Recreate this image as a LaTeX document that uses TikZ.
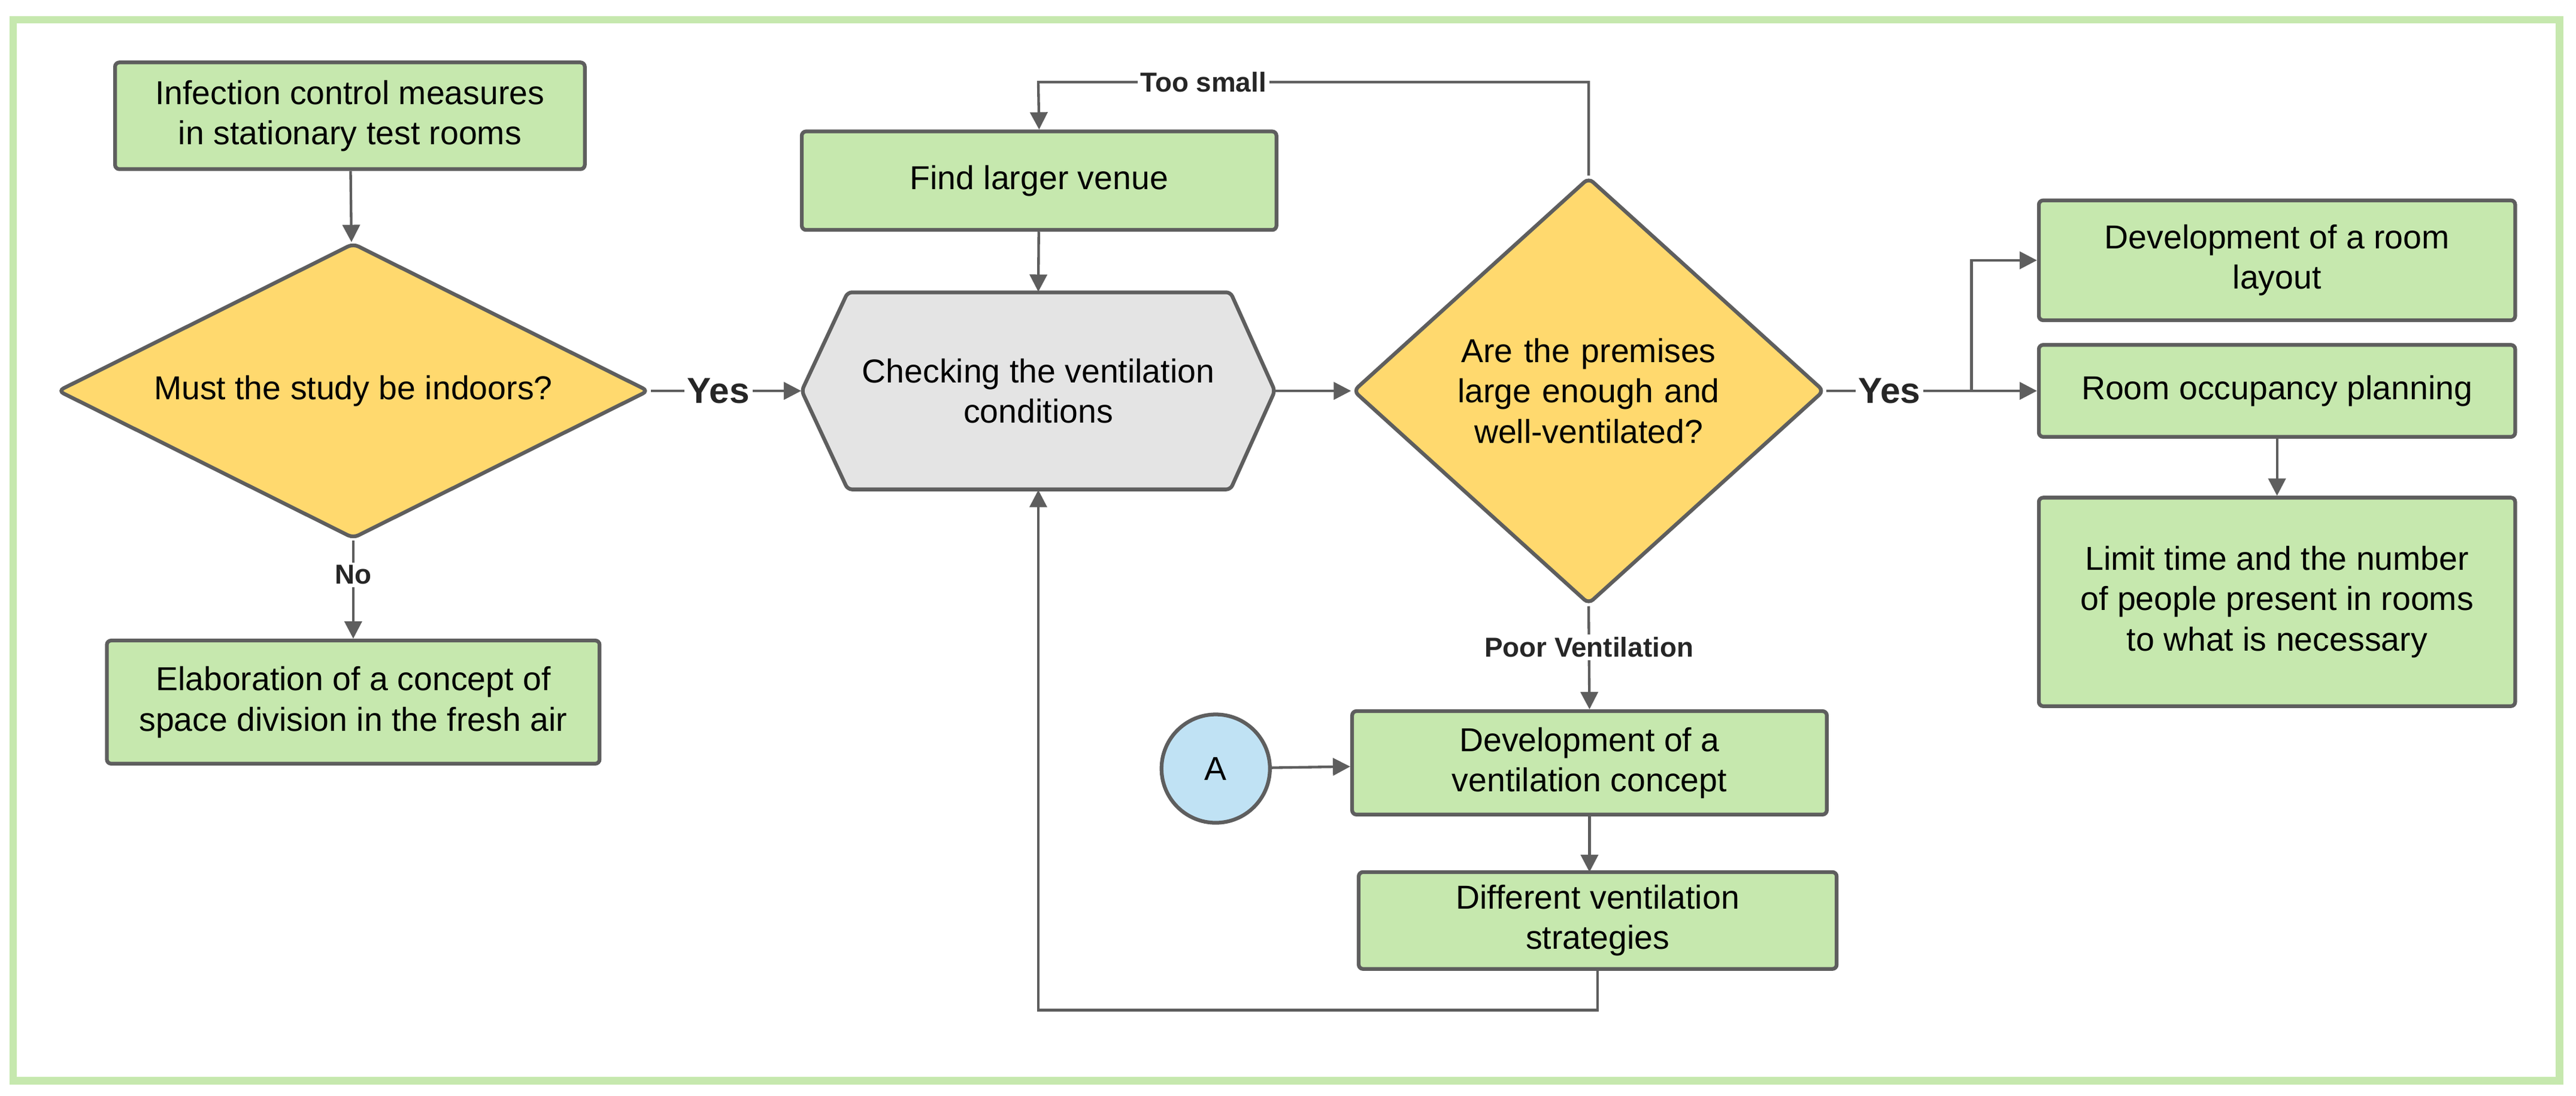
\documentclass[tikz,border=0pt]{standalone}
\usepackage{fontspec}
\setmainfont{Liberation Sans}
\usetikzlibrary{shapes.geometric,arrows.meta}
\definecolor{gbox}{HTML}{C6E8AE}
\definecolor{ydia}{HTML}{FFD96E}
\definecolor{hexg}{HTML}{E4E4E4}
\definecolor{cblue}{HTML}{C0E2F4}
\definecolor{lgray}{HTML}{5E5E5E}
\begin{document}
\begin{tikzpicture}[x=0.02cm,y=-0.02cm,
  font=\fontsize{11.5}{14}\selectfont,
  box/.style={draw=lgray,line width=1.3pt,fill=gbox,rounded corners=1.5pt,align=center,inner sep=2pt},
  dia/.style={diamond,draw=lgray,line width=1.3pt,fill=ydia,align=center,inner sep=0pt,rounded corners=2pt},
  arr/.style={draw=lgray,line width=0.9pt,-{Triangle[length=6pt,width=6pt]}},
  lab/.style={font=\bfseries\fontsize{12.5}{14}\selectfont,text=black!85},
  slab/.style={font=\bfseries\fontsize{9.5}{11}\selectfont,text=black!85,fill=white,inner sep=1pt}]
\useasboundingbox (0,0) rectangle (1568,667);
\draw[gbox,line width=2.6pt] (8,12) rectangle (1558,658);
% nodes
\node[box,minimum width=5.72cm,minimum height=1.3cm] (b1) at (213,70.5) {Infection control measures\\in stationary test rooms};
\node[dia,minimum width=7.2cm,minimum height=3.6cm,aspect=2] (d1) at (215,238) {Must the study be indoors?};
\node[box,minimum width=6.0cm,minimum height=1.5cm] (b2) at (215,427.5) {Elaboration of a concept of\\space division in the fresh air};
\node[minimum width=5.76cm,minimum height=2.4cm,inner sep=0] (hex) at (632,238) {};
\fill[hexg,draw=lgray,line width=1.3pt,rounded corners=1.5pt] (488,238) -- (516,178) -- (749,178) -- (776,238) -- (749,298) -- (516,298) -- cycle;
\node[align=center] at (632,238) {Checking the ventilation\\conditions};
\node[box,minimum width=5.78cm,minimum height=1.2cm] (fl) at (632.5,110) {Find larger venue};
\node[dia,minimum width=5.74cm,minimum height=5.2cm,text width=3.3cm] (d2) at (967,238) {Are the premises large enough and well-ventilated?};
\node[box,minimum width=5.8cm,minimum height=1.46cm] (rl) at (1386,158.5) {Development of a room\\layout};
\node[box,minimum width=5.8cm,minimum height=1.12cm] (ro) at (1386,238) {Room occupancy planning};
\node[box,minimum width=5.8cm,minimum height=2.54cm] (lt) at (1386,366.5) {Limit time and the number\\of people present in rooms\\to what is necessary};
\node[circle,draw=lgray,line width=1.3pt,fill=cblue,minimum size=1.32cm,inner sep=0] (A) at (740,468) {A};
\node[box,minimum width=5.78cm,minimum height=1.26cm] (dv) at (967.5,464.5) {Development of a\\ventilation concept};
\node[box,minimum width=5.82cm,minimum height=1.18cm] (ds) at (972.5,560.5) {Different ventilation\\strategies};
\coordinate (br) at (1200,238);
\coordinate (dsin) at (967.5,531);
\coordinate (tl) at (632,50);
\coordinate (bl) at (632,615);
% connectors
\draw[arr] (b1) -- (d1);
\draw[arr] (d1.south) -- node[slab,pos=0.35]{No} (b2);
\draw[arr] (d1.east) -- node[lab,fill=white,inner sep=1pt,pos=0.45]{Yes} (hex.west);
\draw[arr] (fl) -- (hex.north);
\draw[arr] (hex.east) -- (d2.west);
\draw[arr] (d2.east) -- node[lab,fill=white,inner sep=1pt,pos=0.3]{Yes} (ro.west);
\draw[arr] (br) |- (rl.west);
\draw[arr] (ro) -- (lt);
\draw[arr] (d2.north) |- node[slab,pos=0.85]{Too small} (tl) -- (fl.north);
\draw[arr] (d2.south) -- node[slab,pos=0.4]{Poor Ventilation} (dv.north);
\draw[arr] (A) -- (dv);
\draw[arr] (dv) -- (dsin);
\draw[arr] (ds.south) |- (bl) -- (hex.south);
\end{tikzpicture}
\end{document}
